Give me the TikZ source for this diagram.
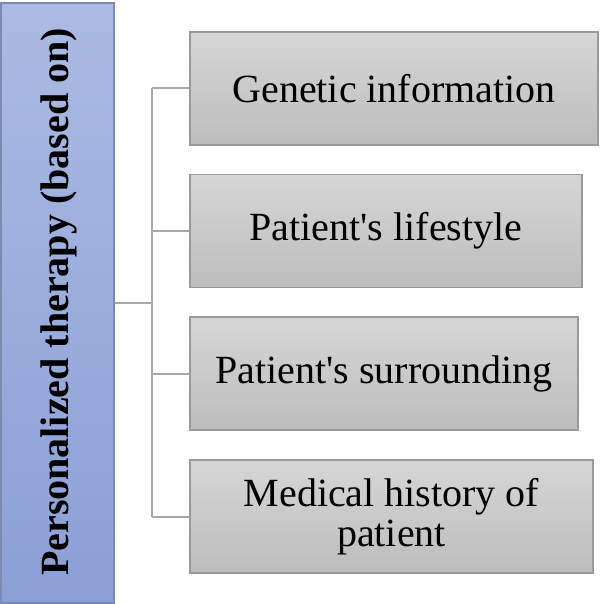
\documentclass[tikz,border=0pt]{standalone}
\usepackage{fontspec}
\setmainfont{Liberation Serif}[Ligatures=TeXOff]
\definecolor{graytop}{HTML}{D6D6D6}
\definecolor{graybot}{HTML}{BDBDBD}
\definecolor{boxline}{HTML}{9A9A9A}
\definecolor{linkgray}{HTML}{A8A8A8}
\definecolor{bluetop}{HTML}{ABBBE3}
\definecolor{bluebot}{HTML}{8C9FD6}
\definecolor{blueline}{HTML}{7D8AAE}
\begin{document}
\begin{tikzpicture}[x=1pt,y=-1pt,
  graybox/.style={draw=boxline, line width=1.5pt, top color=graytop, bottom color=graybot,
    align=center, inner sep=0pt, minimum height=113pt, font=\fontsize{40}{40}\selectfont},
  mainbox/.style={draw=blueline, line width=1.5pt, top color=bluetop, bottom color=bluebot,
    inner sep=0pt, minimum width=113pt, minimum height=600pt},
  maintext/.style={rotate=90, font=\fontsize{40}{40}\selectfont\bfseries},
  link/.style={draw=linkgray, line width=2pt}]
\useasboundingbox (0,0) rectangle (600,604);
\node[mainbox] (L) at (57.5,303) {};
\node[maintext] (Lt) at (59,302) {Personalized therapy (based on)};
\node[graybox, minimum width=408pt] (b1) at (394,88.5) {Genetic information};
\node[graybox, minimum width=392pt] (b2) at (386,231) {Patient's lifestyle};
\node[graybox, minimum width=388pt] (b3) at (384,373.5) {Patient's surrounding};
\node[graybox, minimum width=403pt] (b4) at (391.5,516.5) {\raisebox{-3pt}{\parbox{380pt}{\centering Medical history of\\patient}}};
\coordinate (trunk) at (152,302);
\draw[link] (L.east) -- (L.east -| trunk);
\draw[link] (b1.west -| trunk) -- (b4.west -| trunk);
\draw[link] (b1.west -| trunk) -- (b1.west);
\draw[link] (b2.west -| trunk) -- (b2.west);
\draw[link] (b3.west -| trunk) -- (b3.west);
\draw[link] (b4.west -| trunk) -- (b4.west);
\end{tikzpicture}
\end{document}
